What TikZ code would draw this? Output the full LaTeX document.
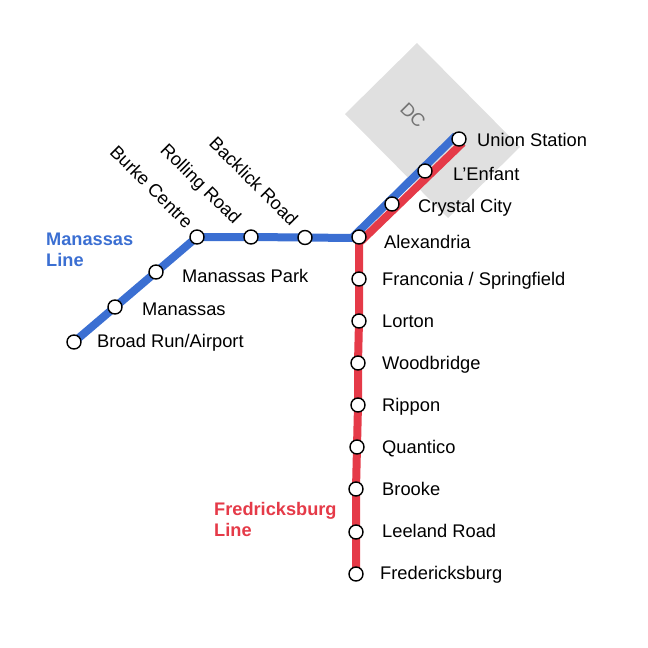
\documentclass[tikz,border=0pt]{standalone}
\usepackage{fontspec}
\setmainfont{Liberation Sans}
\definecolor{manassasblue}{HTML}{3B6FD2}
\definecolor{fredred}{HTML}{E53A48}
\tikzset{
	station/.style={circle, draw=black, fill=white, line width=1.4pt, minimum size=14pt, inner sep=0pt},
	stationlabel/.style={anchor=base west, inner sep=0pt, font=\fontsize{18.3}{20}\selectfont},
	slantlabel/.style={anchor=east, inner sep=0pt, rotate=-45, font=\fontsize{18.3}{20}\selectfont},
	linelabel/.style={anchor=west, align=left, inner sep=0pt, font=\fontsize{18.2}{21}\selectfont\bfseries},
	bluetrack/.style={manassasblue, line width=8pt, line join=round},
	redtrack/.style={fredred, line width=8pt, line join=round}
}
\begin{document}
\begin{tikzpicture}[x=1pt, y=-1pt]
	\useasboundingbox (0, 0) rectangle (648, 648);
	
	% DC
	\fill[black!12] (417, 43) -- (520, 147) -- (448, 218) -- (345, 114) -- cycle;
	\node[rotate=-45, text=black!55, font=\fontsize{18.3}{20}\selectfont] (dc) at (413, 115) {DC};
	
	% stations
	\coordinate (union) at (459, 139);
	\coordinate (enfant) at (425, 171);
	\coordinate (crystal) at (392, 204);
	\coordinate (alex) at (359, 237);
	\coordinate (backlick) at (305, 237.5);
	\coordinate (rolling) at (251, 237);
	\coordinate (burke) at (197, 237);
	\coordinate (park) at (156, 272);
	\coordinate (manassas) at (115, 307);
	\coordinate (broad) at (74, 342);
	\coordinate (franconia) at (359, 279);
	\coordinate (lorton) at (359, 321);
	\coordinate (woodbridge) at (358, 363);
	\coordinate (rippon) at (358, 405);
	\coordinate (quantico) at (357, 447);
	\coordinate (brooke) at (356, 489);
	\coordinate (leeland) at (356, 532);
	\coordinate (fred) at (356, 574);
	
	% tracks
	\draw[bluetrack] (broad) -- (manassas) -- (park) -- (burke) -- (rolling) -- (backlick) -- ([shift={(-7,1)}]alex) -- ([shift={(-3.2,-3.2)}]union);
	\draw[redtrack] (fred) -- (leeland) -- (brooke) -- (quantico) -- (rippon) -- (woodbridge) -- (lorton) -- (franconia) -- ([shift={(0,6)}]alex) -- ([shift={(3.7,3.7)}]union);
	
	\foreach \name in {union, enfant, crystal, alex, backlick, rolling, burke, park, manassas, broad, franconia, lorton, woodbridge, rippon, quantico, brooke, leeland, fred}
		\node[station] (st\name) at (\name) {};
	
	% labels
	\node[stationlabel] (lunion) at (477, 146) {Union Station};
	\node[stationlabel] (lenfant) at (453, 180) {L'Enfant};
	\node[stationlabel] (lcrystal) at (418, 212) {Crystal City};
	\node[stationlabel] (lalex) at (384, 248) {Alexandria};
	\node[stationlabel] (lfranconia) at (382, 285) {Franconia / Springfield};
	\node[stationlabel] (llorton) at (382, 327) {Lorton};
	\node[stationlabel] (lwoodbridge) at (382, 369) {Woodbridge};
	\node[stationlabel] (lrippon) at (382, 411) {Rippon};
	\node[stationlabel] (lquantico) at (382, 453) {Quantico};
	\node[stationlabel] (lbrooke) at (382, 495) {Brooke};
	\node[stationlabel] (lleeland) at (382, 537) {Leeland Road};
	\node[stationlabel] (lfred) at (380, 579) {Fredericksburg};
	\node[stationlabel] (lbroad) at (97, 347) {Broad Run/Airport};
	\node[stationlabel] (lmanassas) at (142, 315) {Manassas};
	\node[stationlabel] (lpark) at (182, 282) {Manassas Park};
	\node[slantlabel] (lburke) at (190, 225) {Burke Centre};
	\node[slantlabel] (lrolling) at (237, 222) {Rolling Road};
	\node[slantlabel] (lbacklick) at (295, 222) {Backlick Road};
	
	\node[linelabel, text=manassasblue] (lblue) at (46, 250) {Manassas\\Line};
	\node[linelabel, text=fredred] (lred) at (214, 519) {Fredricksburg\\Line};
\end{tikzpicture}
\end{document}
